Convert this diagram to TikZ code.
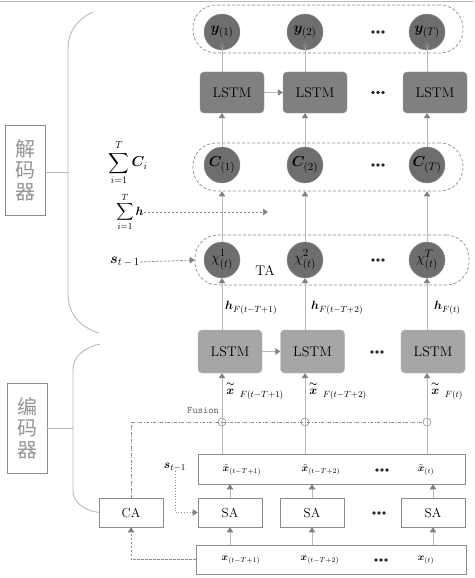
\documentclass[tikz,border=0pt]{standalone}
\usepackage{fontspec}
\usepackage{amsmath,bm}
\newfontfamily\cjk{Noto Sans CJK SC}
\usetikzlibrary{arrows.meta,calc}
\begin{document}
\begin{tikzpicture}[x=1pt,y=-1pt,
  ln/.style={draw=black!28, line width=0.9pt},
  tip/.style={-{Triangle[length=5pt,width=6.5pt,color=black!50]}},
  arr/.style={ln, tip},
  dsh/.style={draw=black!45, line width=0.7pt, dash pattern=on 2.5pt off 1.5pt},
  rowbox/.style={draw=black!45, line width=0.7pt, dash pattern=on 3pt off 2pt, rounded corners=23pt, inner sep=0pt},
  circ/.style={circle, fill=black!57, draw=black!45, minimum size=36pt, inner sep=0pt, font=\fontsize{15}{17}\selectfont},
  dlstm/.style={rounded corners=4pt, fill=black!50, draw=black!40, minimum width=64pt, minimum height=41pt, inner sep=0pt, font=\fontsize{14}{16}\selectfont},
  elstm/.style={rounded corners=4pt, fill=black!35, draw=black!30, minimum width=64pt, minimum height=43pt, inner sep=0pt, font=\fontsize{14}{16}\selectfont},
  sbox/.style={draw=black!45, line width=0.7pt, minimum width=64pt, minimum height=29pt, inner sep=0pt, font=\fontsize{13}{15}\selectfont},
  wbox/.style={draw=black!45, line width=0.7pt, inner sep=0pt},
  dots/.style={minimum width=16pt, minimum height=5pt, inner sep=0pt, path picture={
      \fill[black!85] ([xshift=-5pt]path picture bounding box.center) circle (1.9pt);
      \fill[black!85] (path picture bounding box.center) circle (1.9pt);
      \fill[black!85] ([xshift=5pt]path picture bounding box.center) circle (1.9pt);}},
  lab/.style={font=\fontsize{13}{15}\selectfont, inner sep=0pt, anchor=west},
  small/.style={font=\fontsize{10}{12}\selectfont, inner sep=0pt},
  side/.style={draw=black!45, line width=0.8pt, minimum width=40pt, minimum height=90pt, inner sep=0pt, align=center, text=black!42, font=\cjk\fontsize{20}{21.5}\selectfont},
  brace/.style={draw=black!28, line width=0.9pt},
  fus/.style={circle, draw=black!45, line width=0.6pt, minimum size=8pt, inner sep=0pt}
]
\useasboundingbox (0,0) rectangle (474,578);
\draw[black!28, line width=1.5pt] (0,1.5) -- (474,1.5);

% ---------- decoder rows ----------
\node[rowbox, minimum width=270pt, minimum height=48pt] (Yrow) at (328,29) {};
\node[rowbox, minimum width=270pt, minimum height=48pt] (Crow) at (328,167) {};
\node[rowbox, minimum width=274pt, minimum height=50pt] (Trow) at (332,260) {};

\node[circ] (Y1) at (222,32) {$\bm{y}_{(1)}$};
\node[circ] (Y2) at (305,32) {$\bm{y}_{(2)}$};
\node[circ] (Y3) at (427,32) {$\bm{y}_{(T)}$};
\node[dots] (dy) at (378,32) {};

\node[dlstm] (D1) at (232,92.5) {LSTM};
\node[dlstm] (D2) at (315,92.5) {LSTM};
\node[dlstm] (D3) at (435,92.5) {LSTM};
\node[dots] (dd) at (378,92.5) {};

\node[circ] (C1) at (222,165) {$\bm{C}_{(1)}$};
\node[circ] (C2) at (305,165) {$\bm{C}_{(2)}$};
\node[circ] (C3) at (427,165) {$\bm{C}_{(T)}$};
\node[dots] (dc) at (378,165) {};

\node[circ] (X1) at (222,260) {$\chi^{1}_{(t)}$};
\node[circ] (X2) at (305,260) {$\chi^{2}_{(t)}$};
\node[circ] (X3) at (427,260) {$\chi^{T}_{(t)}$};
\node[dots] (dx) at (378,260) {};
\node[font=\fontsize{14}{16}\selectfont, inner sep=0pt] (TA) at (265,270) {TA};

\node[font=\fontsize{14}{16}\selectfont, inner sep=0pt] (sc) at (128,163) {$\displaystyle\sum_{i=1}^{T}\bm{C}_i$};
\node[font=\fontsize{13}{15}\selectfont, inner sep=0pt] (sh) at (130,212) {$\displaystyle\sum_{i=1}^{T}\bm{h}$};
\coordinate (shend) at (268,212);
\node[font=\fontsize{15}{17}\selectfont, inner sep=0pt] (s1) at (125,262) {$\bm{s}_{t\,-\,1}$};

\node[lab] (h1) at (225,308) {$\bm{h}_{F(t-T+1)}$};
\node[lab] (h2) at (311,308) {$\bm{h}_{F(t-T+2)}$};
\node[lab] (h3) at (434,308) {$\bm{h}_{F(t)}$};

% ---------- encoder ----------
\node[elstm] (E1) at (230,351.5) {LSTM};
\node[elstm] (E2) at (312.5,351.5) {LSTM};
\node[elstm] (E3) at (433,351.5) {LSTM};
\node[dots] (de) at (377,352) {};

\node[lab] (xf1) at (226,391) {$\stackrel{\bm{\sim}}{\bm{x}}\,_{F(t-T+1)}$};
\node[lab] (xf2) at (309,391) {$\stackrel{\bm{\sim}}{\bm{x}}\,_{F(t-T+2)}$};
\node[lab] (xf3) at (431,391) {$\stackrel{\bm{\sim}}{\bm{x}}\,_{F(t)}$};

\node[font=\ttfamily\fontsize{10}{12}\selectfont, text=black!65, inner sep=0pt] (fusion) at (203,410) {Fusion};
\coordinate (fy) at (0,422);
\node[fus] (F1) at (X1 |- fy) {};
\node[fus] (F2) at (X2 |- fy) {};
\node[fus] (F3) at (X3 |- fy) {};

\node[wbox, minimum width=267pt, minimum height=30pt] (XT) at (331.5,469) {};
\node[small] (xt1) at (242,470) {$\tilde{\bm{x}}_{(t-T+1)}$};
\node[small] (xt2) at (321,470) {$\tilde{\bm{x}}_{(t-T+2)}$};
\node[dots] (dxt) at (382,470) {};
\node[small] (xt3) at (426,470) {$\tilde{\bm{x}}_{(t)}$};

\node[font=\fontsize{13}{15}\selectfont, inner sep=0pt] (s2) at (175,467) {$\bm{s}_{t-1}$};

\node[sbox] (CA) at (131,512.5) {CA};
\node[sbox] (S1) at (230,512.5) {SA};
\node[sbox] (S2) at (312,512.5) {SA};
\node[sbox] (S3) at (433,512.5) {SA};
\node[dots] (ds) at (379,513) {};

\node[wbox, minimum width=270pt, minimum height=29pt] (B) at (331,559.5) {};
\node[small] (b1) at (241,560) {$\bm{x}_{(t-T+1)}$};
\node[small] (b2) at (320,560) {$\bm{x}_{(t-T+2)}$};
\node[dots] (db) at (381,560) {};
\node[small] (b3) at (426,560) {$\bm{x}_{(t)}$};

% side labels
\node[side] (dec) at (25,170) {解\\码\\器};
\node[side] (enc) at (27,428) {编\\码\\器};

% braces
\draw[brace] (93,12) .. controls (76,20) and (68,32) .. (68,50) -- (68,294) .. controls (68,314) and (80,327) .. (99,333);
\draw[brace] (100,344) .. controls (84,348) and (73,356) .. (73,370) -- (73,490) .. controls (73,503) and (84,510) .. (CA.west);
\draw[brace] (dec.east |- 0,172) -- (68,172);
\draw[brace] (enc.east) -- (73,428);

% ---------- connectors ----------
\foreach \i in {1,2,3}{
  \draw[arr] (D\i.north -| Y\i) -- ([yshift=8pt]Y\i.south);
  \draw[arr] (C\i.north) -- (D\i.south -| C\i);
  \draw[arr] (X\i.north) -- (Crow.south -| X\i);
  \draw[arr] (E\i.north -| X\i) -- (X\i.south);
  \draw[arr] (XT.north -| X\i) -- (E\i.south -| X\i);
  \draw[arr] (S\i.north) -- (XT.south -| S\i);
  \draw[arr] (B.north -| S\i) -- (S\i.south);
}
\draw[arr] (D1.east) -- (D2.west);
\draw[arr] (E1.east) -- (E2.west);

\draw[dsh, tip] (sh.east) -- (shend);
\draw[dsh, tip] (s1.east) -- (Trow.west);

\draw[draw=black!45, line width=0.7pt, dash pattern=on 3pt off 1.5pt on 1pt off 1.5pt] (CA.north) -- (CA.north |- fy) -- (F3);
\draw[draw=black!40, line width=0.8pt, dotted, tip] (s2.south) -- (s2.south |- S1) -- (S1.west);
\draw[dsh, tip] (B.west) -- (B.west -| CA) -- (CA.south);
\end{tikzpicture}
\end{document}
